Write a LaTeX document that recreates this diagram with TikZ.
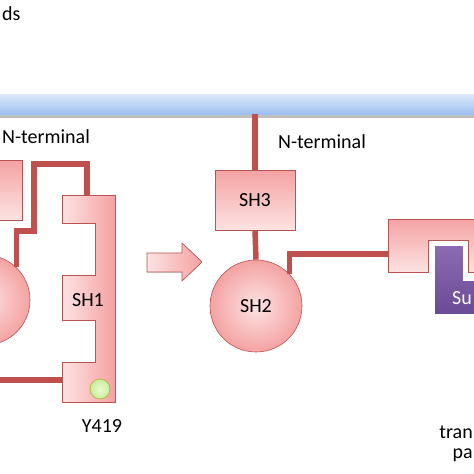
\documentclass[tikz,border=0pt]{standalone}
\usepackage{fontspec}
\setmainfont{Carlito}
\usepackage{tikz}
\usetikzlibrary{calc}

\definecolor{linkred}{HTML}{C0504D}
\definecolor{edgered}{HTML}{B85450}
\definecolor{pinklight}{HTML}{FDE3E3}
\definecolor{pinkdark}{HTML}{F4A2A2}
\definecolor{barlight}{HTML}{DDE9FB}
\definecolor{bardark}{HTML}{9DC0F0}
\definecolor{purplelight}{HTML}{8B6CB2}
\definecolor{purpledark}{HTML}{6A4A94}
\definecolor{greenlight}{HTML}{EAFBD2}
\definecolor{greendark}{HTML}{C9EC9C}

\begin{document}
\begin{tikzpicture}
	[x=1pt, y=-1pt,
	pink box/.style={draw=edgered, line width=0.6pt, top color=pinkdark, bottom color=pinklight},
	pink side/.style={draw=edgered, line width=0.6pt, left color=pinklight, right color=pinkdark},
	pink ball/.style={circle, draw=edgered, line width=0.6pt, inner color=pinklight, outer color=pinkdark},
	link/.style={draw=linkred, line width=5.5pt},
	label text/.style={font=\fontsize{20}{24}\selectfont, inner sep=0pt}]
	\useasboundingbox (0,0) rectangle (474,474);
	\clip (0,0) rectangle (474,474);

	%membrane bar
	\fill[black!25] (-5,114) rectangle (480,118);
	\node[rectangle, top color=barlight, bottom color=bardark, minimum width=490pt, minimum height=20pt, inner sep=0pt] (bar) at (237,104) {};

	%texts
	\node[label text, anchor=base west] (ds) at (2,20) {ds};
	\node[label text, anchor=base west] (nterm1) at (2,143) {N-terminal};
	\node[label text, anchor=base west] (nterm2) at (278,148) {N-terminal};
	\node[label text, anchor=base] (y419) at (102,432) {Y419};
	\node[label text, anchor=base east] (tran) at (473,438) {tran};
	\node[label text, anchor=base east] (pa) at (473,458) {pa};

	%left part
	\fill[pink box] (-5,160) rectangle (22,220);
	\node[pink ball, minimum size=90pt] (lball) at (-15,300) {};
	\fill[pink side] (62,195) -- (115,195) -- (115,402) -- (62,402) -- (62,362) -- (95,362)
		-- (95,320) -- (62,320) -- (62,275) -- (95,275) -- (95,223) -- (62,223) -- cycle;
	\node[label text] (sh1) at (88,300) {SH1};
	\node[circle, draw=olive!60, line width=0.8pt, inner color=greenlight, outer color=greendark, minimum size=20pt] (y419dot) at (100,389) {};
	\coordinate (sh1 top) at (87,195);
	\coordinate (sh1 port) at (62,380);
	\coordinate (left end) at (-5,380);
	\draw[link] (lball.46) |- (34,231) |- (87,164) -- (sh1 top);
	\draw[link] (left end) -- (sh1 port);

	%block arrow
	\fill[pink side] (147,253) -- (182,253) -- (182,243) -- (202,262) -- (182,281) -- (182,272) -- (147,272) -- cycle;

	%middle part
	\node[rectangle, pink box, minimum width=80pt, minimum height=60pt, label text] (sh3) at (255,200) {SH3};
	\node[pink ball, minimum size=92pt, label text] (sh2) at (256,306) {SH2};
	\draw[link] (sh3.north) -- (sh3.north |- bar.south);
	\draw[link] (sh3.south) -- (sh2.north);

	%right part
	\fill[pink box] (388,219) -- (480,219) -- (480,272) -- (468,272) -- (468,240)
		-- (428,240) -- (428,272) -- (388,272) -- cycle;
	\coordinate (rbox west) at (388,254);
	\draw[link] (sh2.44) |- (rbox west);
	\fill[draw=white, line width=1.5pt, top color=purplelight, bottom color=purpledark]
		(434,245) -- (464,245) -- (464,280) -- (480,280) -- (480,315) -- (434,315) -- cycle;
	\node[label text, anchor=base west, text=white] (su) at (452,304) {Su};
\end{tikzpicture}
\end{document}
